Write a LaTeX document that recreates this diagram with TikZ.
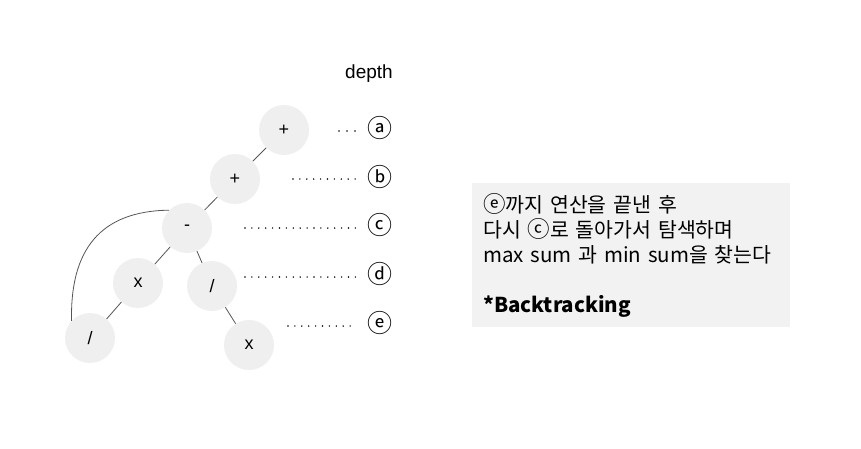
\documentclass[tikz,border=0pt]{standalone}
\usepackage{fontspec}
\setmainfont{Liberation Sans}
\newfontfamily\krfont{Noto Sans CJK KR}
\usetikzlibrary{positioning}
\definecolor{nodegray}{HTML}{EFEFEF}
\definecolor{boxgray}{HTML}{F2F2F2}
\definecolor{edgegray}{HTML}{555555}
\tikzset{
    opnode/.style={circle, fill=nodegray, minimum size=50pt, inner sep=0pt, font=\fontsize{18}{18}\selectfont},
    edge/.style={draw=edgegray, line width=0.8pt},
    leader/.style={line width=1.6pt, line cap=round, dash pattern=on 0pt off 6.9pt},
    depthlabel/.style={inner sep=0pt, font=\krfont\fontsize{25}{25}\selectfont},
    notebox/.style={rectangle, fill=boxgray, anchor=north west, align=left, text width=296pt, minimum width=318pt, minimum height=144pt, inner xsep=11pt, inner ysep=6pt, font=\krfont\fontsize{20.5}{25}\selectfont}
}
\newcommand{\circled}[1]{{\fontsize{22.5}{25}\selectfont #1}}
\begin{document}
\begin{tikzpicture}[x=1pt, y=-1pt]
        \useasboundingbox (0,0) rectangle (861,448);

        % Tree
        \node[opnode] (PlusA) at (284,130) {+};
        \node[opnode] (PlusB) at (235,179) {+};
        \node[opnode] (Minus) at (187,228) {-};
        \node[opnode] (TimesL) at (138,283) {x};
        \node[opnode] (DivR) at (212,286) {/};
        \node[opnode] (DivL) at (90,338) {/};
        \node[opnode] (TimesR) at (249,345) {x};

        \draw[edge] (PlusA) -- (PlusB);
        \draw[edge] (PlusB) -- (Minus);
        \draw[edge] (Minus) -- (TimesL);
        \draw[edge] (Minus) -- (DivR);
        \draw[edge] (TimesL) -- (DivL);
        \draw[edge] (DivR) -- (TimesR);
        \draw[edge] (Minus.135) .. controls (100,211) and (70,250) .. (DivL.137);

        % Depth
        \node[font=\fontsize{19}{19}\selectfont] (Depth) at (369,74) {depth};
        \node[depthlabel] (DepA) at (380,128) {ⓐ};
        \node[depthlabel] (DepB) at (380,177) {ⓑ};
        \node[depthlabel] (DepC) at (380,225) {ⓒ};
        \node[depthlabel] (DepD) at (380,274) {ⓓ};
        \node[depthlabel] (DepE) at (380,323) {ⓔ};

        \coordinate (DotsA) at (339,131);
        \coordinate (DotsB) at (293,179);
        \coordinate (DotsC) at (245,228);
        \coordinate (DotsD) at (245,277);
        \coordinate (DotsE) at (288,326);
        \draw[leader, dash pattern=on 0pt off 8pt] (DotsA) -- ([xshift=-24pt]DotsA -| DepA);
        \draw[leader] (DotsB) -- ([xshift=-24pt]DotsB -| DepB);
        \draw[leader] (DotsC) -- ([xshift=-24pt]DotsC -| DepC);
        \draw[leader] (DotsD) -- ([xshift=-24pt]DotsD -| DepD);
        \draw[leader] (DotsE) -- ([xshift=-29pt]DotsE -| DepE);

        % Note
        \node[notebox] (Note) at (472,183) {\circled{ⓔ}까지 연산을 끝낸 후\\다시 \circled{ⓒ}로 돌아가서 탐색하며\\max sum 과 min sum을 찾는다\\[25pt]\textbf{*Backtracking}};

    \end{tikzpicture}
\end{document}
